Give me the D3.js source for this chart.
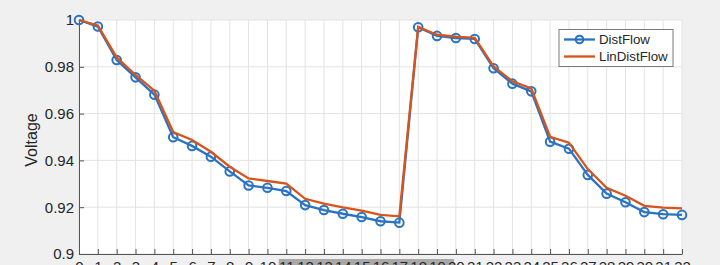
<!DOCTYPE html>
<html>
<head>
<meta charset="utf-8">
<script src="https://d3js.org/d3.v7.min.js"></script>
<style>
  body { margin: 0; background: #f0f0f0; }
  text { font-family: "Liberation Sans", Arial, sans-serif; }
</style>
</head>
<body>
<div id="chart"></div>
<script>
// bus index 0..32
const buses = d3.range(0, 33);

const distFlow = [1.0000, 0.9972, 0.9829, 0.9755, 0.9681, 0.9499, 0.9462, 0.9416, 0.9353,
  0.9293, 0.9283, 0.9269, 0.9209, 0.9188, 0.9172, 0.9158, 0.9140, 0.9134,
  0.9969, 0.9932, 0.9923, 0.9919, 0.9794, 0.9728, 0.9695,
  0.9480, 0.9450, 0.9338, 0.9258, 0.9221, 0.9179, 0.9170, 0.9167];

const linDistFlow = [1.0000, 0.9977, 0.9840, 0.9765, 0.9698, 0.9521, 0.9487, 0.9437, 0.9373,
  0.9323, 0.9312, 0.9301, 0.9236, 0.9215, 0.9199, 0.9185, 0.9167, 0.9161,
  0.9970, 0.9937, 0.9929, 0.9924, 0.9802, 0.9738, 0.9708,
  0.9501, 0.9476, 0.9363, 0.9283, 0.9249, 0.9206, 0.9198, 0.9195];

const yTicks = [0.9, 0.92, 0.94, 0.96, 0.98, 1];
const seriesNames = ["DistFlow", "LinDistFlow"];

const W = 720, H = 265;
const margin = {top: 20, right: 38, bottom: 11, left: 79};
const width = W - margin.left - margin.right;
const height = H - margin.top - margin.bottom;

const svg = d3.select("#chart").append("svg")
    .attr("width", W)
    .attr("height", H);

const g = svg.append("g")
    .attr("transform", "translate(" + margin.left + "," + margin.top + ")");

const x = d3.scaleLinear().domain([0, 32]).range([0, width]);
const y = d3.scaleLinear().domain([0.9, 1]).range([height, 0]);

// plot background
g.append("rect")
    .attr("width", width)
    .attr("height", height)
    .attr("fill", "#fff");

// grid
g.selectAll(".gx").data(buses).join("line")
    .attr("x1", d => x(d)).attr("x2", d => x(d))
    .attr("y1", 0).attr("y2", height)
    .attr("stroke", "#e3e3e3").attr("stroke-width", 1);
g.selectAll(".gy").data(yTicks).join("line")
    .attr("x1", 0).attr("x2", width)
    .attr("y1", d => y(d)).attr("y2", d => y(d))
    .attr("stroke", "#e3e3e3").attr("stroke-width", 1);

// grey highlight behind some x tick labels
g.append("rect")
    .attr("x", x(10.6)).attr("y", height + 5)
    .attr("width", x(19.9) - x(10.6)).attr("height", 20)
    .attr("fill", "#a8a8a8");

// axes
const xAxis = g.append("g")
    .attr("transform", "translate(0," + height + ")")
    .call(d3.axisBottom(x).tickValues(buses).tickFormat(d3.format("d")).tickSizeInner(-5).tickSizeOuter(0).tickPadding(7));
const yAxis = g.append("g")
    .call(d3.axisLeft(y).tickValues(yTicks).tickFormat(d => d === 1 || d === 0.9 ? String(d) : d3.format(".2f")(d)).tickSizeInner(-5).tickSizeOuter(0).tickPadding(5));

[xAxis, yAxis].forEach(a => {
  a.select(".domain").attr("stroke", "#555");
  a.selectAll(".tick line").attr("stroke", "#555");
  a.selectAll("text").attr("fill", "#262626").style("font-size", "15px")
   .style("font-family", "'Liberation Sans', Arial, sans-serif");
});

// y label
svg.append("text")
    .attr("transform", "translate(37," + (margin.top + height / 2 + 3) + ") rotate(-90)")
    .attr("text-anchor", "middle")
    .attr("fill", "#262626")
    .style("font-size", "16px")
    .text("Voltage");

const line = d3.line().x((d, i) => x(buses[i])).y(d => y(d));

const blue = "#2a73c0", orange = "#d9531a";

g.append("path").datum(distFlow)
    .attr("d", line).attr("fill", "none")
    .attr("stroke", blue).attr("stroke-width", 2.3);

g.selectAll(".mk").data(distFlow).join("circle")
    .attr("cx", (d, i) => x(buses[i])).attr("cy", d => y(d))
    .attr("r", 4.3).attr("fill", "none")
    .attr("stroke", blue).attr("stroke-width", 2);

g.append("path").datum(linDistFlow)
    .attr("d", line).attr("fill", "none")
    .attr("stroke", orange).attr("stroke-width", 2.3);

// legend
const lg = svg.append("g").attr("transform", "translate(559,29.5)");
lg.append("rect")
    .attr("width", 114).attr("height", 37)
    .attr("fill", "#fff").attr("stroke", "#7a7a7a").attr("stroke-width", 1);
const colors = [blue, orange];
seriesNames.forEach((name, i) => {
  const yy = 10 + i * 17;
  lg.append("line")
    .attr("x1", 5).attr("x2", 36).attr("y1", yy).attr("y2", yy)
    .attr("stroke", colors[i]).attr("stroke-width", 2.3);
  if (i === 0) {
    lg.append("circle").attr("cx", 20.5).attr("cy", yy).attr("r", 3.8)
      .attr("fill", "none").attr("stroke", blue).attr("stroke-width", 2);
  }
  lg.append("text")
    .attr("x", 40).attr("y", yy + 4.5)
    .attr("fill", "#262626")
    .style("font-size", "13.3px")
    .text(name);
});
</script>
</body>
</html>
